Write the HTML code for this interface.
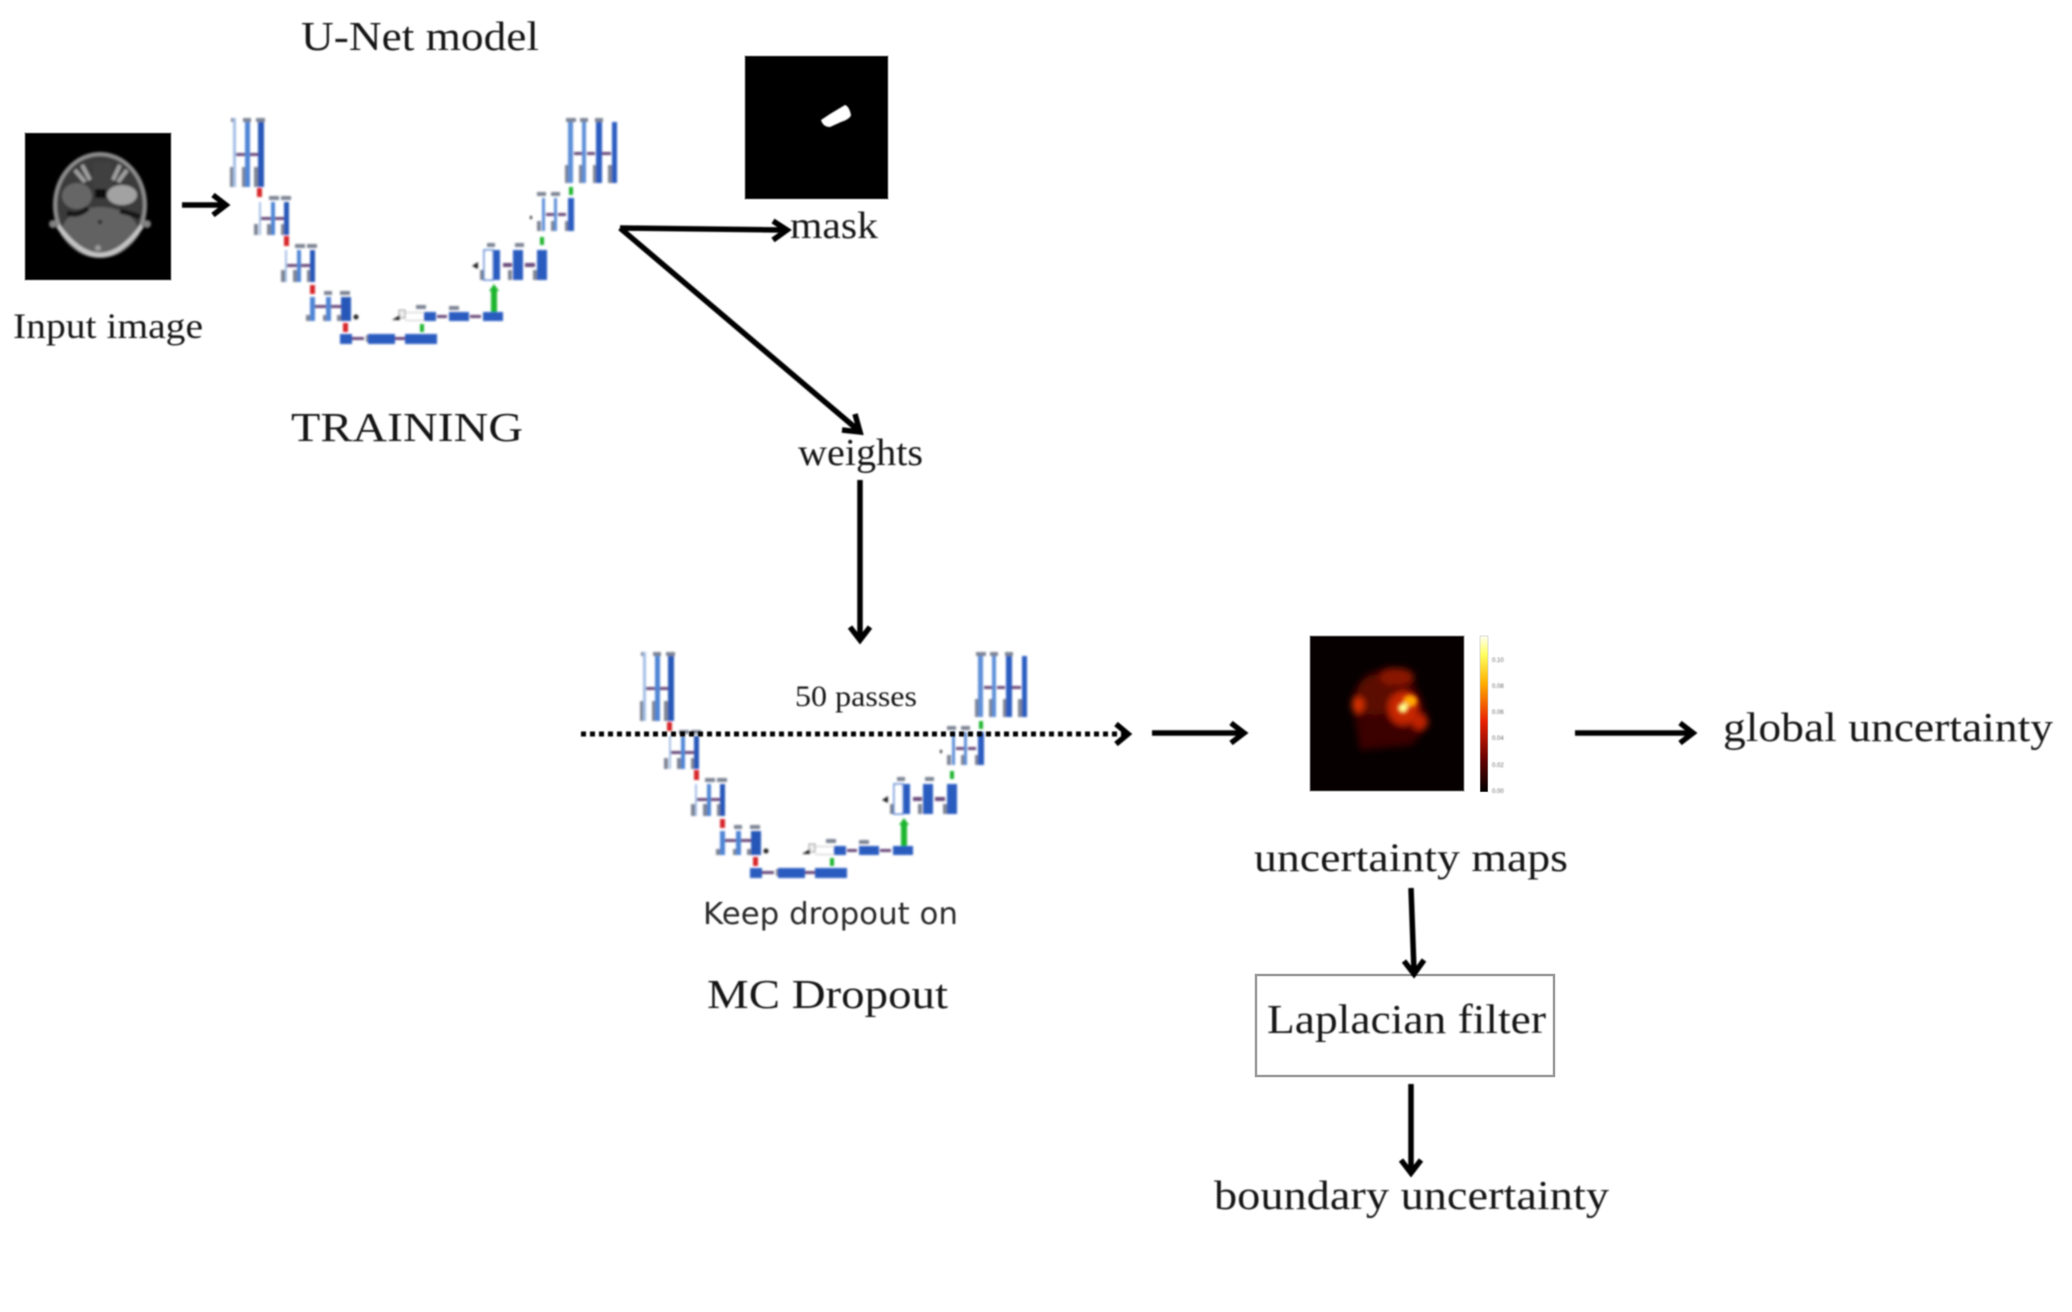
<!DOCTYPE html>
<html><head><meta charset="utf-8"><style>
html,body{margin:0;padding:0;background:#fff;width:2072px;height:1312px;overflow:hidden}
svg{display:block}
text{font-family:"Liberation Serif",serif;fill:#151515}
.ar{fill:none;stroke:#000;stroke-width:5.5;stroke-linejoin:miter}
</style></head><body>
<svg width="2072" height="1312" viewBox="0 0 2072 1312" xmlns="http://www.w3.org/2000/svg">
<defs>
<filter id="b1" x="-5%" y="-5%" width="110%" height="110%"><feGaussianBlur stdDeviation="0.7"/></filter>
<filter id="b2" x="-5%" y="-5%" width="110%" height="110%"><feGaussianBlur stdDeviation="1"/></filter>
<filter id="bb" x="-10%" y="-10%" width="120%" height="120%"><feGaussianBlur stdDeviation="1.4"/></filter>
<filter id="b3" x="-50%" y="-50%" width="200%" height="200%"><feGaussianBlur stdDeviation="2.2"/></filter>
<filter id="b5" x="-40%" y="-40%" width="180%" height="180%"><feGaussianBlur stdDeviation="3.5"/></filter>
<linearGradient id="cb" x1="0" y1="0" x2="0" y2="1">
<stop offset="0" stop-color="#fffff0"/><stop offset=".12" stop-color="#ffff60"/><stop offset=".3" stop-color="#ffb000"/><stop offset=".55" stop-color="#e82000"/><stop offset=".8" stop-color="#600000"/><stop offset="1" stop-color="#000"/>
</linearGradient>
<g id="unet" filter="url(#b2)">
<g fill="#7d8494">
<rect x="231" y="118" width="5" height="4"/><rect x="243" y="118" width="8" height="4"/><rect x="256" y="118" width="9" height="4"/>
<rect x="230" y="167" width="4" height="20"/><rect x="242" y="167" width="4" height="20"/><rect x="254" y="167" width="4" height="20"/>
<rect x="269" y="196" width="10" height="4"/><rect x="281" y="196" width="10" height="4"/>
<rect x="254" y="224" width="4" height="11"/><rect x="267" y="224" width="4" height="11"/><rect x="281" y="224" width="4" height="11"/>
<rect x="295" y="244" width="10" height="4"/><rect x="307" y="244" width="10" height="4"/>
<rect x="281" y="270" width="4" height="12"/><rect x="293" y="270" width="4" height="12"/><rect x="307" y="270" width="4" height="12"/>
<rect x="324" y="291" width="8" height="4"/><rect x="340" y="291" width="10" height="4"/>
<rect x="306" y="315" width="4" height="6"/><rect x="323" y="315" width="3" height="6"/><rect x="337" y="315" width="4" height="6"/>
<rect x="343" y="338" width="4" height="1"/>
<rect x="366" y="335" width="2" height="7"/>
<rect x="416" y="305" width="10" height="4"/><rect x="449" y="306" width="10" height="4"/>
<rect x="487" y="243" width="8" height="4"/><rect x="515" y="243" width="9" height="4"/>
<rect x="480" y="270" width="4" height="10"/><rect x="508" y="270" width="4" height="10"/><rect x="533" y="270" width="4" height="10"/>
<rect x="537" y="192" width="9" height="4"/><rect x="551" y="192" width="9" height="4"/>
<rect x="537" y="221" width="4" height="10"/><rect x="551" y="221" width="4" height="10"/><rect x="565" y="221" width="4" height="10"/>
<rect x="566" y="118" width="10" height="4"/><rect x="580" y="118" width="8" height="4"/><rect x="595" y="118" width="8" height="4"/>
<rect x="565" y="165" width="4" height="18"/><rect x="579" y="165" width="4" height="18"/><rect x="593" y="165" width="4" height="18"/><rect x="608" y="165" width="4" height="18"/>
</g>
<rect x="399" y="310" width="6" height="8" fill="#eee" stroke="#999"/>
<rect x="405" y="312" width="19" height="1" fill="#ccc"/><rect x="405" y="320" width="19" height="1" fill="#ccc"/>
<g fill="#a5bfe6"><rect x="233" y="118" width="3" height="69"/><rect x="259" y="202" width="2" height="33"/><rect x="285" y="250" width="2" height="32"/></g>
<g fill="#4f86d6"><rect x="245" y="122" width="5" height="65"/><rect x="271" y="202" width="4" height="33"/><rect x="297" y="250" width="4" height="32"/><rect x="310" y="297" width="5" height="24"/><rect x="326" y="297" width="5" height="24"/></g>
<g fill="#2757b8"><rect x="258" y="122" width="6" height="65"/><rect x="284" y="202" width="5" height="33"/><rect x="310" y="250" width="5" height="32"/><rect x="341" y="297" width="10" height="24"/></g>
<g fill="#2a5cc0"><rect x="340" y="334" width="12" height="10"/><rect x="368" y="334" width="27" height="10"/><rect x="405" y="334" width="32" height="10"/><rect x="424" y="312" width="12" height="9"/><rect x="449" y="312" width="20" height="9"/><rect x="483" y="312" width="20" height="9"/><rect x="493" y="250" width="7" height="30"/><rect x="513" y="250" width="10" height="30"/><rect x="537" y="250" width="10" height="30"/><rect x="568" y="198" width="6" height="33"/><rect x="596" y="122" width="6" height="61"/><rect x="612" y="122" width="5" height="61"/></g>
<rect x="484" y="250" width="9" height="30" fill="#fff" stroke="#4f86d6" stroke-width="1.5"/>
<g fill="#5d8fd8"><rect x="568" y="122" width="5" height="61"/><rect x="542" y="198" width="3" height="33"/><rect x="554" y="198" width="3" height="33"/><rect x="582" y="122" width="4" height="61"/></g>
<g fill="#d7262b"><rect x="257" y="188" width="5" height="9"/><rect x="284" y="236" width="5" height="10"/><rect x="310" y="285" width="5" height="9"/><rect x="343" y="323" width="5" height="9"/></g>
<g fill="#1fb52f"><rect x="491" y="290" width="6" height="22"/><polygon points="489,291 494,284 499,291"/><rect x="420" y="324" width="4" height="8"/><rect x="540" y="237" width="4" height="8"/><rect x="569" y="187" width="4" height="8"/></g>
<g fill="#6a4a7a"><rect x="236" y="153" width="9" height="3"/><rect x="250" y="153" width="8" height="3"/><rect x="261" y="217" width="10" height="3"/><rect x="275" y="217" width="9" height="3"/><rect x="287" y="264" width="10" height="3"/><rect x="301" y="264" width="9" height="3"/><rect x="315" y="305" width="11" height="3"/><rect x="331" y="305" width="10" height="3"/><rect x="352" y="337" width="12" height="3"/><rect x="395" y="337" width="10" height="3"/><rect x="437" y="315" width="10" height="3"/><rect x="470" y="315" width="11" height="3"/><rect x="503" y="263" width="9" height="4"/><rect x="525" y="263" width="10" height="4"/><rect x="546" y="213" width="8" height="3"/><rect x="558" y="213" width="8" height="3"/><rect x="574" y="152" width="8" height="3"/><rect x="587" y="152" width="8" height="3"/><rect x="602" y="152" width="9" height="3"/></g>
<g fill="#222"><circle cx="356" cy="317" r="2.5"/><polygon points="392,320 400,315 400,320"/><polygon points="472,266 478,262 478,269"/><rect x="530" y="216" width="2" height="3"/></g>
</g>
</defs>

<rect width="2072" height="1312" fill="#fff"/>

<!-- input brain -->
<rect x="25" y="133" width="146" height="147" fill="#000" stroke="#888" stroke-width="1"/>
<g filter="url(#bb)">
<ellipse cx="100" cy="205" rx="45" ry="51" fill="#3a3a3a" stroke="#8e8e8e" stroke-width="4"/>
<ellipse cx="100" cy="231" rx="38" ry="24" fill="#626262"/>
<path d="M58 226 Q100 284 142 226" fill="none" stroke="#c4c4c4" stroke-width="4.5"/>
<rect x="93" y="162" width="19" height="27" fill="#404040"/>
<path d="M82 165 L90 180 M75 170 L85 182 M120 165 L113 180 M127 170 L118 182" stroke="#a0a0a0" stroke-width="4"/>
<ellipse cx="77" cy="196" rx="15" ry="13" fill="#666"/>
<ellipse cx="122" cy="195" rx="15" ry="10" fill="#a2a2a2"/>
<path d="M67 213 Q78 217 88 208 M120 211 Q130 213 140 217" stroke="#151515" stroke-width="5" fill="none"/>
<rect x="95" y="189" width="11" height="9" fill="#111"/>
<circle cx="53" cy="224" r="4" fill="#808080"/><circle cx="147" cy="224" r="4" fill="#808080"/>
<circle cx="100" cy="222" r="2" fill="#222"/>
<circle cx="98" cy="248" r="3" fill="#9a9a9a"/>
</g>

<!-- mask -->
<rect x="745" y="56" width="143" height="143" fill="#000" stroke="#888" stroke-width="1"/>
<path d="M821 120 L830 114 L845 105 Q849 106 851 115 Q850 119 841 122 L830 127 Q823 127 821 120Z" fill="#fff" filter="url(#b1)"/>

<use href="#unet"/>
<use href="#unet" x="410" y="534"/>

<!-- heat map -->
<rect x="1310" y="636" width="154" height="155" fill="#070000" stroke="#888" stroke-width="1"/>
<g filter="url(#b5)">
<path d="M1352 700 Q1358 672 1390 667 Q1420 672 1428 725 L1412 745 L1360 750 Z" fill="#3a0500"/>
<ellipse cx="1375" cy="695" rx="18" ry="20" fill="#5a0c00"/>
<ellipse cx="1397" cy="677" rx="17" ry="9" fill="#8a1800"/>
<ellipse cx="1358" cy="705" rx="6" ry="8" fill="#d83000"/>
<ellipse cx="1403" cy="708" rx="15" ry="17" fill="#c82800"/>
<ellipse cx="1420" cy="722" rx="8" ry="8" fill="#c02200"/>
</g>
<g filter="url(#b3)">
<ellipse cx="1410" cy="701" rx="7" ry="6" fill="#ffa800"/>
<ellipse cx="1403" cy="708" rx="5" ry="5" fill="#ffff90"/>
</g>
<rect x="1480" y="636" width="8" height="156" fill="url(#cb)" stroke="#ccc" stroke-width=".7"/>
<g filter="url(#b1)">
<text x="1492" y="662" font-size="6" style="font-family:'Liberation Sans',sans-serif;fill:#666">0.10</text>
<text x="1492" y="688" font-size="6" style="font-family:'Liberation Sans',sans-serif;fill:#666">0.08</text>
<text x="1492" y="714" font-size="6" style="font-family:'Liberation Sans',sans-serif;fill:#666">0.06</text>
<text x="1492" y="740" font-size="6" style="font-family:'Liberation Sans',sans-serif;fill:#666">0.04</text>
<text x="1492" y="767" font-size="6" style="font-family:'Liberation Sans',sans-serif;fill:#666">0.02</text>
<text x="1492" y="793" font-size="6" style="font-family:'Liberation Sans',sans-serif;fill:#666">0.00</text>
</g>

<!-- Laplacian box -->
<rect x="1256" y="975" width="298" height="101" fill="none" stroke="#9a9a9a" stroke-width="2.5"/>

<g filter="url(#b1)">
<path class="ar" d="M182 205H225M213 195L226 205L213 215"/>
<path class="ar" d="M620 228L785 230M773 221L787 230L773 240"/>
<path class="ar" d="M620 228L858 430M855 414L860 432L842 430"/>
<path class="ar" d="M860 480V638M850 627L860 640L870 627"/>
<path class="ar" d="M1152 733H1243M1231 723L1244 733L1231 743"/>
<path class="ar" d="M1575 733H1692M1680 723L1693 733L1680 743"/>
<path class="ar" d="M1411 888L1414 971M1404 961L1414 974L1424 960"/>
<path class="ar" d="M1411 1084V1171M1401 1160L1411 1173L1421 1160"/>
<path d="M581 734H1124" fill="none" stroke="#000" stroke-width="5" stroke-dasharray="5 4"/>
<path class="ar" d="M1116 724L1128 734L1116 744"/>

<text x="301" y="50" font-size="41" textLength="238" lengthAdjust="spacingAndGlyphs">U-Net model</text>
<text x="13" y="338" font-size="36" textLength="190" lengthAdjust="spacingAndGlyphs">Input image</text>
<text x="291" y="441" font-size="41" textLength="232" lengthAdjust="spacingAndGlyphs">TRAINING</text>
<text x="790" y="238" font-size="38" textLength="88" lengthAdjust="spacingAndGlyphs">mask</text>
<text x="798" y="465" font-size="38" textLength="125" lengthAdjust="spacingAndGlyphs">weights</text>
<text x="795" y="706" font-size="30" textLength="122" lengthAdjust="spacingAndGlyphs">50 passes</text>
<text x="703" y="924" font-size="30" textLength="255" lengthAdjust="spacingAndGlyphs" style="font-family:'DejaVu Sans',sans-serif;fill:#2a2a2a">Keep dropout on</text>
<text x="707" y="1008" font-size="41" textLength="241" lengthAdjust="spacingAndGlyphs">MC Dropout</text>
<text x="1723" y="741" font-size="41" textLength="330" lengthAdjust="spacingAndGlyphs">global uncertainty</text>
<text x="1254" y="871" font-size="40" textLength="314" lengthAdjust="spacingAndGlyphs">uncertainty maps</text>
<text x="1267" y="1033" font-size="41" textLength="279" lengthAdjust="spacingAndGlyphs">Laplacian filter</text>
<text x="1214" y="1209" font-size="41" textLength="395" lengthAdjust="spacingAndGlyphs">boundary uncertainty</text>
</g>
</svg>
</body></html>
